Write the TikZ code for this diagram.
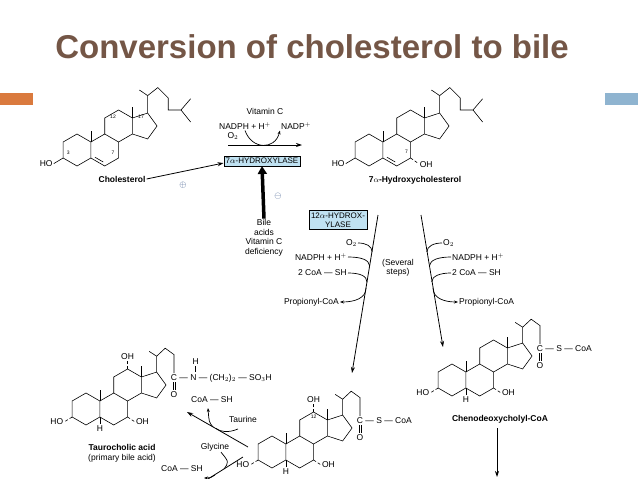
\documentclass[tikz,border=0pt]{standalone}
\usepackage{fontspec}
\setmainfont{Liberation Sans}
\usetikzlibrary{arrows.meta,positioning}

\definecolor{titlebrown}{RGB}{116,86,70}
\definecolor{barorange}{RGB}{218,122,62}
\definecolor{barblue}{RGB}{143,180,208}
\definecolor{enzblue}{RGB}{192,226,242}
\definecolor{signblue}{RGB}{60,90,140}

\tikzset{
  bond/.style={line width=0.6pt},
  alpha/.style={bond, densely dashed},
  lab/.style={font=\fontsize{8.5}{9.5}\selectfont, inner sep=1pt},
  cpd/.style={font=\fontsize{8.5}{10}\selectfont\bfseries, inner sep=1pt},
  num/.style={font=\fontsize{5}{6}\selectfont, inner sep=0pt},
  enzyme/.style={draw, fill=enzblue, font=\fontsize{8}{9}\selectfont, inner sep=2pt, align=center},
  rxn/.style={line width=0.8pt, -{Stealth[length=6pt,width=4pt]}},
  cof/.style={line width=0.7pt},
}

% four fused rings, ring A centred at the origin, bond length 1
\newcommand{\sterolcore}{%
  \draw[bond] (-0.866,0.5)--(0,1)--(0.866,0.5)--(0.866,-0.5)--(0,-1)--(-0.866,-0.5)--cycle;
  \draw[bond] (0.866,0.5)--(1.732,1)--(2.598,0.5)--(2.598,-0.5)--(1.732,-1)--(0.866,-0.5);
  \draw[bond] (1.732,1)--(1.732,2)--(2.598,2.5)--(3.464,2)--(3.464,1)--(2.598,0.5);
  \draw[bond] (3.464,2)--(4.415,2.309)--(5.003,1.5)--(4.415,0.691)--(3.464,1);
  \draw[bond] (0.866,0.5)--(0.866,1.2) (3.464,2)--(3.464,2.7);
}
% side chain of the bile acids, ending at (5.5,2.25)
\newcommand{\acylchain}{%
  \draw[bond] (4.415,2.309)--(4.415,3.3)--(4.95,3.8)--(5.5,3.4)--(5.5,2.25);
  \draw[bond] (4.415,3.3)--(3.95,3.6);
}
% thioester C(=O)-S-CoA, #1 = name prefix
\newcommand{\thioester}[1]{%
  \node[lab] (#1c) at (5.5,1.94) {C};
  \node[lab, right=0pt of #1c] {--- S --- CoA};
  \node[lab] (#1o) at (5.5,0.9) {O};
  \draw[bond] ([xshift=-0.8pt]#1c.south) -- ([xshift=-0.8pt]#1o.north)
              ([xshift=0.8pt]#1c.south) -- ([xshift=0.8pt]#1o.north);
}

\begin{document}
\begin{tikzpicture}[x=1pt, y=-1pt]
  \useasboundingbox (0,0) rectangle (638,479);
  \clip (0,0) rectangle (638,479);

  % title and bars
  \node[font=\fontsize{33}{36}\selectfont\bfseries, text=titlebrown] (title) at (312,47) {Conversion of cholesterol to bile};
  \fill[barorange] (0,93) rectangle (33,105);
  \fill[barblue] (605,93) rectangle (638,105);

  % cholesterol
  \begin{scope}[shift={(77,150)}, x=16pt, y=16pt]
    \sterolcore
    \draw[bond] (1.12,-0.45)--(1.64,-0.75);
    \draw[bond] (4.415,2.309)--(4.415,3.4)--(5.05,3.9)--(5.7,3.25)--(5.7,2.5)--(6.5,2.5)--(7.1,3.2);
    \draw[bond] (6.5,2.5)--(7.1,1.75) (4.415,3.4)--(3.9,3.75);
    \draw[bond] (-0.866,-0.5)--(-1.45,-0.85);
    \node[lab, anchor=east] (cholho) at (-1.45,-0.85) {HO};
    \node[num] at (-0.55,-0.2) {3};
    \node[num] at (2.25,-0.15) {7};
    \node[num] at (2.25,2.05) {12};
    \node[num] at (4.0,2.05) {17};
  \end{scope}
  \node[cpd] (chol) at (122,179) {Cholesterol};
  \node[text=signblue] (plus) at (183,185) {\small$\oplus$};

  % 7alpha-hydroxylase step
  \node[enzyme] (enz7) at (262,161) {7$\alpha$-HYDROXYLASE};
  \coordinate (h1) at (228,145);
  \coordinate (h2) at (302,145);
  \draw[rxn] (h1) -- (h2);
  \node[lab] (vitc) at (265,111) {Vitamin C};
  \node[lab] (nadph) at (245,126) {NADPH + H$^{+}$};
  \node[lab] (nadp) at (296,126) {NADP$^{+}$};
  \node[lab] (o2a) at (233,136) {O$_2$};
  \draw[cof, -{Stealth[length=4pt,width=3pt]}] (nadph.south) .. controls (252,150) and (275,150) .. (nadp.south west);
  \draw[rxn] (chol.east) -- ([yshift=3pt]enz7.south west);
  \node[lab, align=center] (bile) at (264,238) {Bile\\acids\\Vitamin C\\deficiency};
  \draw[line width=3.5pt, -{Triangle[length=8pt,width=9pt]}] (bile.north) -- (enz7.south);
  \node[text=signblue] (minus) at (278,196) {\small$\ominus$};

  % 7alpha-hydroxycholesterol
  \begin{scope}[shift={(369,150)}, x=16pt, y=16pt]
    \sterolcore
    \draw[bond] (1.12,-0.45)--(1.64,-0.75);
    \draw[bond] (4.415,2.309)--(4.415,3.4)--(5.05,3.9)--(5.7,3.25)--(5.7,2.5)--(6.5,2.5)--(7.1,3.2);
    \draw[bond] (6.5,2.5)--(7.1,1.75) (4.415,3.4)--(3.9,3.75);
    \draw[bond] (-0.866,-0.5)--(-1.45,-0.85);
    \node[lab, anchor=east] (hydho) at (-1.45,-0.85) {HO};
    \draw[alpha] (2.598,-0.5)--(3.1,-0.85);
    \node[lab, anchor=west] (hydoh) at (3.1,-0.9) {OH};
    \node[num] at (2.35,-0.1) {7};
  \end{scope}
  \node[cpd] (hydchol) at (415,180) {7$\alpha$-Hydroxycholesterol};

  % two branches
  \node[enzyme] (enz12) at (338,220) {12$\alpha$-HYDROX-\\YLASE};
  \coordinate (l1) at (378,215);
  \coordinate (l2) at (352,373);
  \coordinate (r1) at (421,215);
  \coordinate (r2) at (443,347);
  \draw[rxn] (l1) -- (l2);
  \draw[rxn] (r1) -- (r2);

  \node[lab, anchor=east] (o2l) at (358,243) {O$_2$};
  \node[lab, anchor=east] (nadphl) at (348,257) {NADPH + H$^{+}$};
  \node[lab, anchor=east] (coal) at (348,273) {2 CoA --- SH};
  \node[lab, align=center] (steps) at (398,268) {(Several\\steps)};
  \node[lab, anchor=east] (propl) at (340,302) {Propionyl-CoA};
  \draw[cof] (o2l.east) .. controls (366,243) and (372,246) .. (372.2,252);
  \draw[cof] (nadphl.east) .. controls (362,257) and (369,260) .. (369.7,266);
  \draw[cof] (coal.east) .. controls (360,273) and (367,276) .. (367,282);
  \draw[cof, -{Stealth[length=4pt,width=3pt]}] (366,288) .. controls (366,298) and (355,302) .. (propl.east);

  \node[lab, anchor=west] (o2r) at (442,243) {O$_2$};
  \node[lab, anchor=west] (nadphr) at (451,257) {NADPH + H$^{+}$};
  \node[lab, anchor=west] (coar) at (451,273) {2 CoA --- SH};
  \node[lab, anchor=west] (propr) at (458,302) {Propionyl-CoA};
  \draw[cof] (o2r.west) .. controls (434,243) and (427,246) .. (426.8,252);
  \draw[cof] (nadphr.west) .. controls (438,257) and (430,260) .. (429.4,266);
  \draw[cof] (coar.west) .. controls (440,273) and (432,276) .. (431.7,282);
  \draw[cof, -{Stealth[length=4pt,width=3pt]}] (433,288) .. controls (433,298) and (444,302) .. (propr.west);

  % chenodeoxycholyl-CoA
  \begin{scope}[shift={(452,380)}, x=16pt, y=16pt]
    \sterolcore
    \acylchain
    \thioester{cd}
    \draw[alpha] (-0.866,-0.5)--(-1.35,-0.8);
    \node[lab, anchor=east] (cdho) at (-1.35,-0.8) {HO};
    \draw[bond] (0.866,-0.5)--(0.866,-0.95);
    \node[lab, anchor=north] (cdh) at (0.866,-0.95) {H};
    \draw[alpha] (2.598,-0.5)--(3.05,-0.8);
    \node[lab, anchor=west] (cdoh) at (3.05,-0.8) {OH};
  \end{scope}
  \node[cpd] (cheno) at (500,419) {Chenodeoxycholyl-CoA};
  \coordinate (c2) at (497,477);
  \draw[rxn] (cheno.south) ++(-3,4) -- (c2);

  % cholyl-CoA
  \begin{scope}[shift={(272,452)}, x=16pt, y=16pt]
    \sterolcore
    \acylchain
    \thioester{ch}
    \draw[alpha] (-0.866,-0.5)--(-1.35,-0.8);
    \node[lab, anchor=east] (chho) at (-1.35,-0.8) {HO};
    \draw[bond] (0.866,-0.5)--(0.866,-0.95);
    \node[lab, anchor=north] (chh) at (0.866,-0.95) {H};
    \draw[alpha] (2.598,-0.5)--(3.05,-0.8);
    \node[lab, anchor=west] (choh) at (3.05,-0.8) {OH};
    \draw[alpha] (2.598,2.5)--(2.598,3.0);
    \node[lab, anchor=south] (choh12) at (2.598,3.0) {OH};
    \node[num] at (2.598,2.2) {12};
  \end{scope}

  % taurocholic acid
  \begin{scope}[shift={(86,409)}, x=16pt, y=16pt]
    \sterolcore
    \acylchain
    \node[lab] (tcc) at (5.5,1.94) {C};
    \node[lab, right=0pt of tcc] (tcn) {--- N --- (CH$_2$)$_2$ --- SO$_3$H};
    \node[lab] (tco) at (5.5,0.9) {O};
    \draw[bond] ([xshift=-0.8pt]tcc.south) -- ([xshift=-0.8pt]tco.north)
                ([xshift=0.8pt]tcc.south) -- ([xshift=0.8pt]tco.north);
    \node[lab] (tchn) at (6.85,2.95) {H};
    \draw[bond] (tchn.south) -- ++(0,-0.35);
    \draw[alpha] (-0.866,-0.5)--(-1.35,-0.8);
    \node[lab, anchor=east] (tcho) at (-1.35,-0.8) {HO};
    \draw[bond] (0.866,-0.5)--(0.866,-0.95);
    \node[lab, anchor=north] (tch) at (0.866,-0.95) {H};
    \draw[alpha] (2.598,-0.5)--(3.05,-0.8);
    \node[lab, anchor=west] (tcoh) at (3.05,-0.8) {OH};
    \draw[alpha] (2.598,2.5)--(2.598,3.0);
    \node[lab, anchor=south] (tcoh12) at (2.598,3.0) {OH};
  \end{scope}
  \node[cpd] (tauro) at (122,447) {Taurocholic acid};
  \node[lab] (primary) at (122,458) {(primary bile acid)};

  % conjugation
  \coordinate (t1) at (248,447);
  \coordinate (t2) at (187,412);
  \draw[rxn] (t1) -- (t2);
  \node[lab] (taurine) at (243,419) {Taurine};
  \node[lab] (coat) at (212,400) {CoA --- SH};
  \draw[cof] (238,429) .. controls (228,433) and (221,432) .. (216,428.5);
  \draw[cof, -{Stealth[length=4pt,width=3pt]}] (213,427) .. controls (209,422) .. (208,408);
  \coordinate (g1) at (243,457);
  \coordinate (g2) at (200,484);
  \draw[rxn] (g1) -- (g2);
  \node[lab] (glycine) at (215,447) {Glycine};
  \node[lab] (coag) at (182,469) {CoA --- SH};
  \draw[cof] (glycine.south) ++(6,0) .. controls (229,462) .. (224,469);
  \draw[cof, -{Stealth[length=4pt,width=3pt]}] (215,475) .. controls (210,478) .. (204,478);
\end{tikzpicture}
\end{document}
